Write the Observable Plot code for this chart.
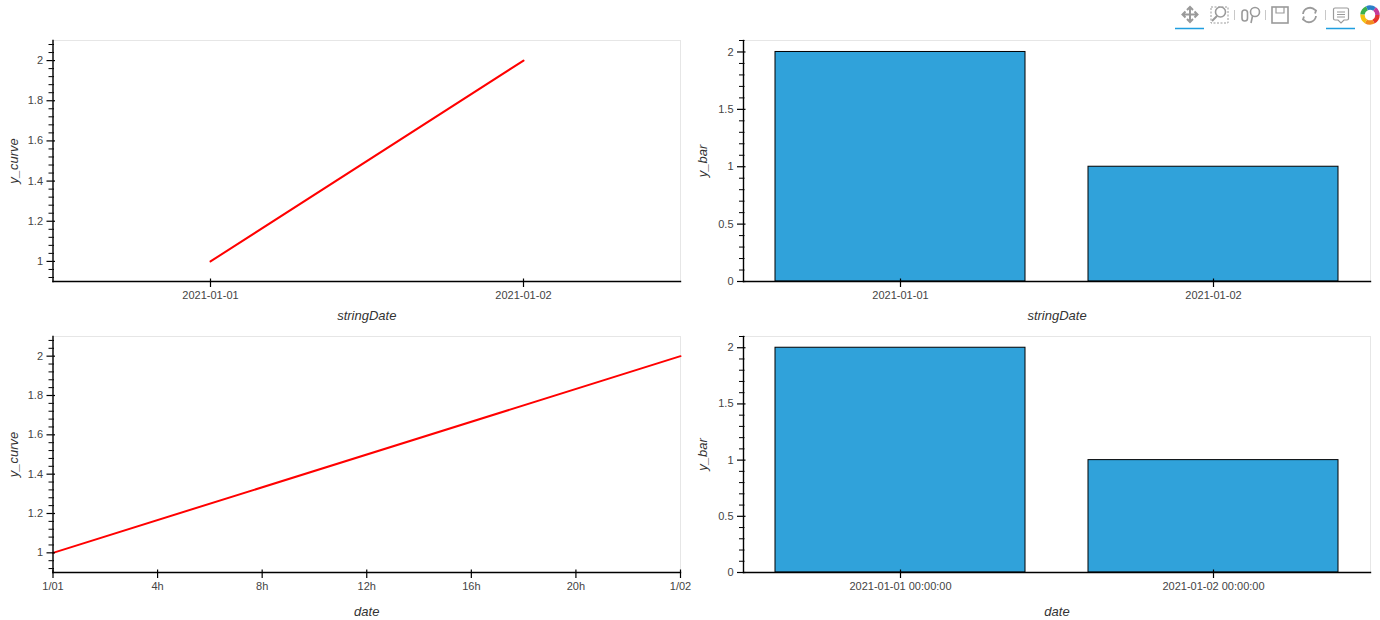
<!DOCTYPE html>
<html>
<head>
<meta charset="utf-8">
<script src="https://cdn.jsdelivr.net/npm/d3@7"></script>
<script src="https://cdn.jsdelivr.net/npm/@observablehq/plot@0.6"></script>
<style>
html,body{margin:0;padding:0;background:#fff;}
#root{position:relative;width:1380px;height:620px;overflow:hidden;font-family:"Liberation Sans",Helvetica,Arial,sans-serif;}
#root>svg{position:absolute;}
#root svg.toolbar{left:0;top:0;}
</style>
</head>
<body>
<div id="root"></div>
<script>
const stringDates = ["2021-01-01", "2021-01-02"];
const dateTimes = ["2021-01-01 00:00:00", "2021-01-02 00:00:00"];
const dates = [new Date("2021-01-01T00:00:00Z"), new Date("2021-01-02T00:00:00Z")];
const yCurve = [1, 2];
const yBar = [2, 1];
const curveTicks = [1, 1.2, 1.4, 1.6, 1.8, 2];
const barTicks = [0, 0.5, 1, 1.5, 2];
const hourLabels = ["1/01", "4h", "8h", "12h", "16h", "20h", "1/02"];
const hourTicks = [0, 4, 8, 12, 16, 20, 24].map(h => new Date(Date.UTC(2021, 0, 1, h)));

const INK = "#444";
const root = document.getElementById("root");
const num = d => String(+d.toFixed(2));
const blank = () => "";
const curveMinor = d3.range(23, 53).map(i => i * 0.04).filter(v => Math.abs(v * 5 - Math.round(v * 5)) > 1e-6);
const barMinor = d3.range(1, 22).map(i => i * 0.1).filter(v => Math.abs(v * 2 - Math.round(v * 2)) > 1e-6);

function panel({left, top, width, height, marginLeft, marginRight = 10, marginTop, marginBottom,
                x, yDomain, yMajor, yMinor, xTicks, xFormat, xLabel, yLabel, marks, labelX, labelY}) {
  const fig = Plot.plot({
    width, height, marginLeft, marginRight, marginTop, marginBottom,
    style: {fontFamily: '"Liberation Sans", Helvetica, Arial, sans-serif', fontSize: "11px", background: "transparent", overflow: "visible"},
    x,
    y: {domain: yDomain, axis: null, label: null},
    marks: [
      Plot.frame({stroke: "#e6e6e6"}),
      ...marks,
      Plot.axisY({ticks: yMinor, tickSize: 4, tickFormat: blank, stroke: "#000", label: null, strokeWidth: 1}),
      Plot.axisY({ticks: yMinor, tickSize: -1.5, tickFormat: blank, stroke: "#000", label: null, strokeWidth: 1}),
      Plot.axisY({ticks: yMajor, tickSize: -2.5, tickFormat: blank, stroke: "#000", label: null, strokeWidth: 1.2}),
      Plot.axisY({ticks: yMajor, tickSize: 6, tickPadding: 4, tickFormat: num, stroke: "#000", fill: INK, fontSize: 11, label: null, strokeWidth: 1.2}),
      Plot.axisY({tickSize: 0, tickFormat: blank, label: yLabel, labelAnchor: "center", labelArrow: "none", labelOffset: labelY, fontSize: 13, fontStyle: "italic", fill: "#333"}),
      Plot.axisX({ticks: xTicks, tickSize: -2.5, tickFormat: blank, stroke: "#000", label: null, strokeWidth: 1.2}),
      Plot.axisX({ticks: xTicks, tickSize: 6, tickPadding: 4, tickFormat: xFormat, stroke: "#000", fill: INK, fontSize: 11, label: null, strokeWidth: 1.2}),
      Plot.axisX({ticks: xTicks, tickSize: 0, tickFormat: blank, label: xLabel, labelAnchor: "center", labelArrow: "none", labelOffset: labelX, fontSize: 13, fontStyle: "italic", fill: "#333"}),
      Plot.frame({anchor: "left", stroke: "#000", strokeWidth: 1.4}),
      Plot.frame({anchor: "bottom", stroke: "#000", strokeWidth: 1.4})
    ]
  });
  fig.style.left = left + "px";
  fig.style.top = top + "px";
  root.appendChild(fig);
}

const xPoint = {type: "point", domain: stringDates, padding: 0.5, label: null};
const band = domain => ({type: "band", domain, paddingInner: 0.2, paddingOuter: 0.1, label: null});
const curveRows = stringDates.map((d, i) => ({x: d, date: dates[i], y: yCurve[i]}));
const barRows = stringDates.map((d, i) => ({x: d, full: dateTimes[i], y: yBar[i]}));
const redLine = (x) => Plot.line(curveRows, {x, y: "y", stroke: "#ff0000", strokeWidth: 2, curve: "linear"});
const bars = (x) => Plot.barY(barRows, {x, y: "y", fill: "#30a2da", stroke: "#000", strokeWidth: 1});

const top1 = {top: 0, height: 325, marginTop: 40, marginBottom: 44, labelX: 38};
const top2 = {top: 325, height: 295, marginTop: 11, marginBottom: 48, labelX: 43};
const leftCol = {left: 0, width: 690, marginLeft: 52.5, labelY: 44};
const rightCol = {left: 690, width: 690, marginLeft: 53, labelY: 46};

panel({...top1, ...leftCol, x: xPoint, yDomain: [0.9, 2.1], yMajor: curveTicks, yMinor: curveMinor,
  xTicks: stringDates, xFormat: d => d, xLabel: "stringDate", yLabel: "y_curve", marks: [redLine("x")]});
panel({...top1, ...rightCol, x: band(stringDates), yDomain: [0, 2.1], yMajor: barTicks, yMinor: barMinor,
  xTicks: stringDates, xFormat: d => d, xLabel: "stringDate", yLabel: "y_bar", marks: [bars("x")]});
panel({...top2, ...leftCol, x: {type: "utc", domain: dates, label: null}, yDomain: [0.9, 2.1], yMajor: curveTicks, yMinor: curveMinor,
  xTicks: hourTicks, xFormat: (d) => hourLabels[hourTicks.findIndex(t => +t === +d)], xLabel: "date", yLabel: "y_curve", marks: [redLine("date")]});
panel({...top2, ...rightCol, x: band(dateTimes), yDomain: [0, 2.1], yMajor: barTicks, yMinor: barMinor,
  xTicks: dateTimes, xFormat: d => d, xLabel: "date", yLabel: "y_bar", marks: [bars("full")]});

// Bokeh-style toolbar (decoration, not data)
root.insertAdjacentHTML("beforeend", `
<svg class="toolbar" width="1380" height="34" fill="none" stroke="#9a9a9a" stroke-width="1.6">
  <path d="M1190 7V22M1182 14.5H1198M1187 10l3-3 3 3M1187 19l3 3 3-3M1185.5 11.5l-3 3 3 3M1194.5 11.5l3 3-3 3" stroke-width="2"/>
  <rect x="1211" y="7" width="17" height="16" stroke-dasharray="2 1.5" stroke-width="1"/>
  <circle cx="1220.5" cy="12" r="5"/><path d="M1217 16l-5 5" stroke-width="2"/>
  <path d="M1234.5 10V20M1265.5 10V20M1325.5 10V20" stroke="#c8c8c8" stroke-width="1"/>
  <rect x="1242" y="10" width="5.5" height="11" rx="2.7"/><circle cx="1255" cy="12" r="4.5"/><path d="M1252.5 16l-1.5 7"/>
  <rect x="1272" y="7" width="16" height="16"/><path d="M1276 7v6h8V7" stroke-width="1.2"/>
  <path d="M1303 14a7 7 0 0 1 12-4M1316 16a7 7 0 0 1-12 4M1313 8.5l3 2-1 3M1306 21.5l-3-2 1-3" stroke-width="1.8"/>
  <path d="M1335 8h12a1.5 1.5 0 0 1 1.5 1.5v9a1.5 1.5 0 0 1-1.5 1.5h-3l-3 3-3-3h-3a1.5 1.5 0 0 1-1.5-1.5v-9A1.5 1.5 0 0 1 1335 8zM1337 12h8M1337 14.5h8M1337 17h8" stroke-width="1.2"/>
  <path d="M1175 28.5H1204M1326 28.5H1355" stroke="#1f9ee0" stroke-width="1.6"/>
  <g stroke-width="4.4" fill="none">
    <circle cx="1370" cy="15" r="7.5" stroke="#e6352b" stroke-dasharray="8 39.1" stroke-dashoffset="0"/>
    <circle cx="1370" cy="15" r="7.5" stroke="#f28c1e" stroke-dasharray="8 39.1" stroke-dashoffset="-8"/>
    <circle cx="1370" cy="15" r="7.5" stroke="#f4c20d" stroke-dasharray="8 39.1" stroke-dashoffset="-16"/>
    <circle cx="1370" cy="15" r="7.5" stroke="#3cb04a" stroke-dasharray="8 39.1" stroke-dashoffset="-24"/>
    <circle cx="1370" cy="15" r="7.5" stroke="#2a7fc9" stroke-dasharray="8 39.1" stroke-dashoffset="-32"/>
    <circle cx="1370" cy="15" r="7.5" stroke="#c43b98" stroke-dasharray="7.1 40" stroke-dashoffset="-40"/>
  </g>
</svg>`);
</script>
</body>
</html>
